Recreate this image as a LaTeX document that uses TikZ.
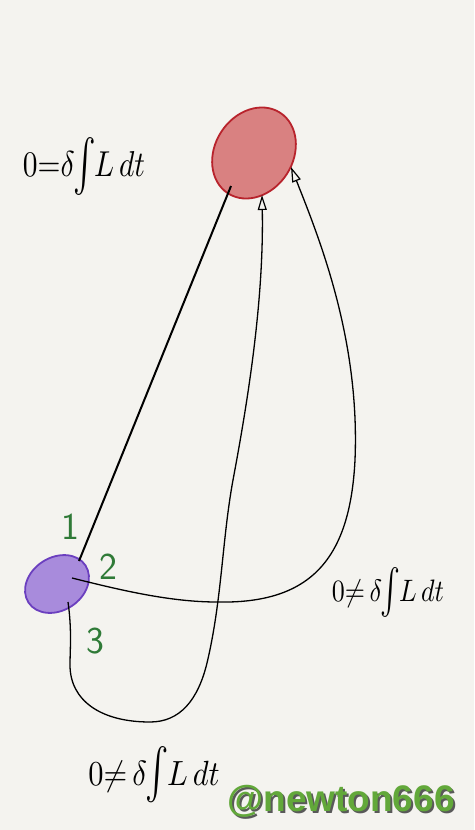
\documentclass[tikz,border=0pt]{standalone}
\usepackage{fontspec}
\usetikzlibrary{arrows.meta,shapes.geometric}
\definecolor{bg}{HTML}{F4F3EF}
\definecolor{redfill}{HTML}{D98181}
\definecolor{reddraw}{HTML}{B8232C}
\definecolor{purfill}{HTML}{A88BDC}
\definecolor{purdraw}{HTML}{6B3FBF}
\definecolor{numgreen}{HTML}{2F7A37}
\definecolor{wmgreen}{HTML}{62A83A}
\newfontfamily\wmfont{Liberation Sans}
\newcommand{\handeq}[3]{\scalebox{#1}[#2]{$#3$}}
\newcommand{\hint}{\raisebox{-0.15ex}{\scalebox{1.15}[1.45]{$\textstyle\int$}}}
\tikzset{
  hand/.style={inner sep=0pt, text=black},
  num/.style={font=\fontsize{38}{40}\selectfont\sffamily, text=numgreen, inner sep=0pt},
  conn/.style={draw=black, line width=1.3pt},
  arrconn/.style={conn, -{Triangle[open, length=15pt, width=9pt, line width=1.2pt]}},
}
\begin{document}
\begin{tikzpicture}[x=1pt,y=-1pt]
\fill[bg] (0,0) rectangle (474,830);
\useasboundingbox (0,0) rectangle (474,830);
% ellipses
\node[draw=reddraw, fill=redfill, line width=1.8pt, shape=ellipse, minimum width=96pt, minimum height=78pt, rotate=57, inner sep=0pt] (R) at (254,153) {};
\node[draw=purdraw, fill=purfill, line width=1.8pt, shape=ellipse, minimum width=68pt, minimum height=53pt, rotate=33, inner sep=0pt] (P) at (57,584) {};
% coordinates
\coordinate (r1) at (231,186);
\coordinate (p1) at (79,561);
\coordinate (p2) at (72,578);
\coordinate (t2) at (291,167);
\coordinate (p3) at (68,602);
\coordinate (t3) at (262,195);
% connectors
\draw[conn, line width=2pt] (r1) -- (p1);
\draw[arrconn] (p2) .. controls (120,590) and (170,602) .. (217,602)
  .. controls (310,604) and (350,560) .. (355,460)
  .. controls (360,340) and (320,240) .. (t2);
\draw[arrconn] (p3) .. controls (72,630) and (70,650) .. (70,665)
  .. controls (70,700) and (100,722) .. (150,722)
  .. controls (180,722) and (198,700) .. (207,663)
  .. controls (222,600) and (222,540) .. (233,480)
  .. controls (248,400) and (264,300) .. (t3);
% texts
\node[hand] (eq1) at (84,166) {\handeq{2.95}{3.6}{0{=}\delta\mkern-1mu\hint\mkern-1mu L\,dt}};
\node[hand] (eq2) at (388,592) {\handeq{2.6}{3.1}{0{\neq}\,\delta\mkern-1mu\hint\mkern-1mu L\,dt}};
\node[hand] (eq3) at (154,775) {\handeq{3.05}{3.5}{0{\neq}\,\delta\mkern-1mu\hint\mkern-1mu L\,dt}};
\node[num] (n1) at (70,527) {1};
\node[num] (n2) at (108,567) {2};
\node[num] (n3) at (95,641) {3};
\node[font=\wmfont\bfseries\fontsize{37}{39}\selectfont, inner sep=0pt] (wm) at (341,802)
  {\rlap{\kern2pt\raisebox{-2pt}{\textcolor{black!65}{@newton666}}}\textcolor{wmgreen}{@newton666}};
\end{tikzpicture}
\end{document}
